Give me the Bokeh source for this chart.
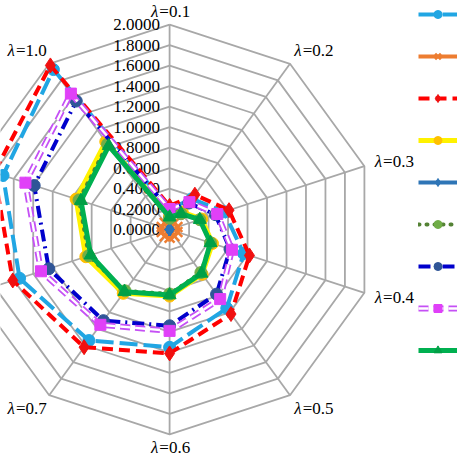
import numpy as np
import bokeh.models
import bokeh.plotting
from bokeh.core.properties import value
from bokeh.embed import file_html
from bokeh.resources import INLINE

# axes of the radar, clockwise from the top
categories = ["0.1", "0.2", "0.3", "0.4", "0.5", "0.6", "0.7", "0.8", "0.9", "1.0"]
ring_values = [0.0, 0.2, 0.4, 0.6, 0.8, 1.0, 1.2, 1.4, 1.6, 1.8, 2.0]
ring_labels = ["0.0000", "0.2000", "0.4000", "0.6000", "0.8000", "1.0000",
               "1.2000", "1.4000", "1.6000", "1.8000", "2.0000"]

# series values, one per axis (lambda = 0.1 ... 1.0)
light_blue = [0.20, 0.37, 0.56, 0.76, 0.95, 1.15, 1.34, 1.54, 1.71, 1.93]
orange = [0.08, 0.08, 0.08, 0.08, 0.08, 0.08, 0.08, 0.08, 0.08, 0.08]
red = [0.23, 0.42, 0.61, 0.82, 1.02, 1.21, 1.42, 1.61, 1.80, 1.98]
yellow = [0.13, 0.21, 0.33, 0.44, 0.54, 0.65, 0.77, 0.86, 0.96, 1.06]
steel_blue = [0.0, 0.0, 0.0, 0.0, 0.0, 0.0, 0.0, 0.0, 0.0, 0.0]
green_dot = [0.11, 0.19, 0.31, 0.42, 0.52, 0.63, 0.74, 0.83, 0.93, 1.03]
dark_blue = [0.19, 0.32, 0.47, 0.62, 0.78, 0.94, 1.10, 1.24, 1.39, 1.55]
magenta = [0.20, 0.33, 0.49, 0.64, 0.84, 0.99, 1.15, 1.32, 1.48, 1.64]
green = [0.12, 0.19, 0.31, 0.42, 0.53, 0.64, 0.75, 0.81, 0.91, 1.01]

PX = 1 / 106  # one reference pixel in data units
FONT = value("Liberation Serif")
X_START, X_END = -175 * PX, 299 * PX
Y_HALF = 237 * PX


def polar(values):
    angles = np.arange(len(categories)) * 2 * np.pi / len(categories)
    r = np.asarray(values, dtype=float)
    return r * np.sin(angles), r * np.cos(angles)


def closed(values):
    x, y = polar(values)
    return list(x) + [x[0]], list(y) + [y[0]]


def radar_plot():
    p = bokeh.plotting.figure(
        width=458,
        height=458,
        x_range=(X_START, X_END),
        y_range=(-Y_HALF, Y_HALF),
        output_backend="svg",
        toolbar_location=None,
        min_border=0,
    )
    p.axis.visible = False
    p.grid.grid_line_color = None
    p.outline_line_color = None

    # web grid
    rings = [closed([v] * len(categories)) for v in ring_values[1:]]
    p.multi_line([r[0] for r in rings], [r[1] for r in rings],
                 line_color="#A8A8A8", line_width=1.8)
    ex, ey = polar([ring_values[-1]] * len(categories))
    p.multi_line([[0, x] for x in ex], [[0, y] for y in ey],
                 line_color="#A8A8A8", line_width=1.8)

    # value labels along the first axis
    p.text(x=[-10 * PX] * len(ring_values), y=ring_values, text=ring_labels,
           text_font=FONT, text_font_size="17px", text_align="right",
           text_baseline="middle", text_color="black")

    # axis names (the ones that fall left of the view are not drawn)
    lx, ly = polar([2.16] * len(categories))
    lx = lx + np.sign(np.round(lx, 6)) * 0.13
    ly = np.clip(ly, -Y_HALF + 0.11, Y_HALF - 0.11)
    shown = [i for i in range(len(categories)) if lx[i] - 0.22 > X_START]
    lx, ly = lx[shown], ly[shown]
    p.text(x=lx - 0.11, y=ly, text=["λ"] * len(shown),
           text_font=FONT, text_font_style="italic", text_font_size="17px",
           text_align="right", text_baseline="middle", text_color="black")
    p.text(x=lx - 0.10, y=ly, text=["=" + categories[i] for i in shown],
           text_font=FONT, text_font_size="17px",
           text_align="left", text_baseline="middle", text_color="black")

    series = [
        (light_blue, dict(line_color="#21A6E3", line_width=4, line_dash="18 6"),
         None, dict(marker="circle", size=12, color="#21A6E3")),
        (orange, dict(line_color="#ED7D31", line_width=4),
         None, dict(marker="x", size=14, line_color="#ED7D31", line_width=2.5)),
        (red, dict(line_color="#FF0000", line_width=4, line_dash="11 6"),
         None, dict(marker="diamond", size=15, color="#F01010")),
        (yellow, dict(line_color="#FFF200", line_width=5),
         None, dict(marker="circle", size=12, color="#FFC000")),
        (steel_blue, dict(line_color="#2E75B6", line_width=4),
         None, dict(marker="diamond", size=13, color="#2E75B6")),
        (green_dot, dict(line_color="#548235", line_width=4, line_dash="1 7", line_cap="round"),
         None, dict(marker="circle", size=12, color="#70AD47")),
        (dark_blue, dict(line_color="#0000CC", line_width=4, line_dash="12 5 2 5"),
         None, dict(marker="circle", size=12, color="#2F5597")),
        (magenta, dict(line_color="#C550F5", line_width=6, line_dash="10 5"),
         dict(line_color="white", line_width=2.4, line_dash="10 5"),
         dict(marker="square", size=11, color="#E040F8")),
        (green, dict(line_color="#00B050", line_width=5),
         None, dict(marker="triangle", size=13, color="#00A046")),
    ]

    items = []
    for values, line_style, inner_style, marker_style in series:
        x, y = closed(values)
        renderers = [p.line(x, y, **line_style)]
        if inner_style:
            renderers.append(p.line(x, y, **inner_style))
        mx, my = polar(values)
        renderers.append(p.scatter(mx, my, **marker_style))
        items.append(bokeh.models.LegendItem(label=value(""), renderers=renderers))

    legend = bokeh.models.Legend(
        items=items,
        location=(418, 98),
        glyph_width=39,
        glyph_height=20,
        label_height=20,
        label_width=0,
        label_standoff=0,
        label_text_font_size="8px",
        spacing=22,
        padding=0,
        margin=0,
        border_line_alpha=0,
        background_fill_alpha=0,
    )
    p.add_layout(legend)

    return p


p = radar_plot()
open("out.html", "w").write(file_html(p, INLINE))
